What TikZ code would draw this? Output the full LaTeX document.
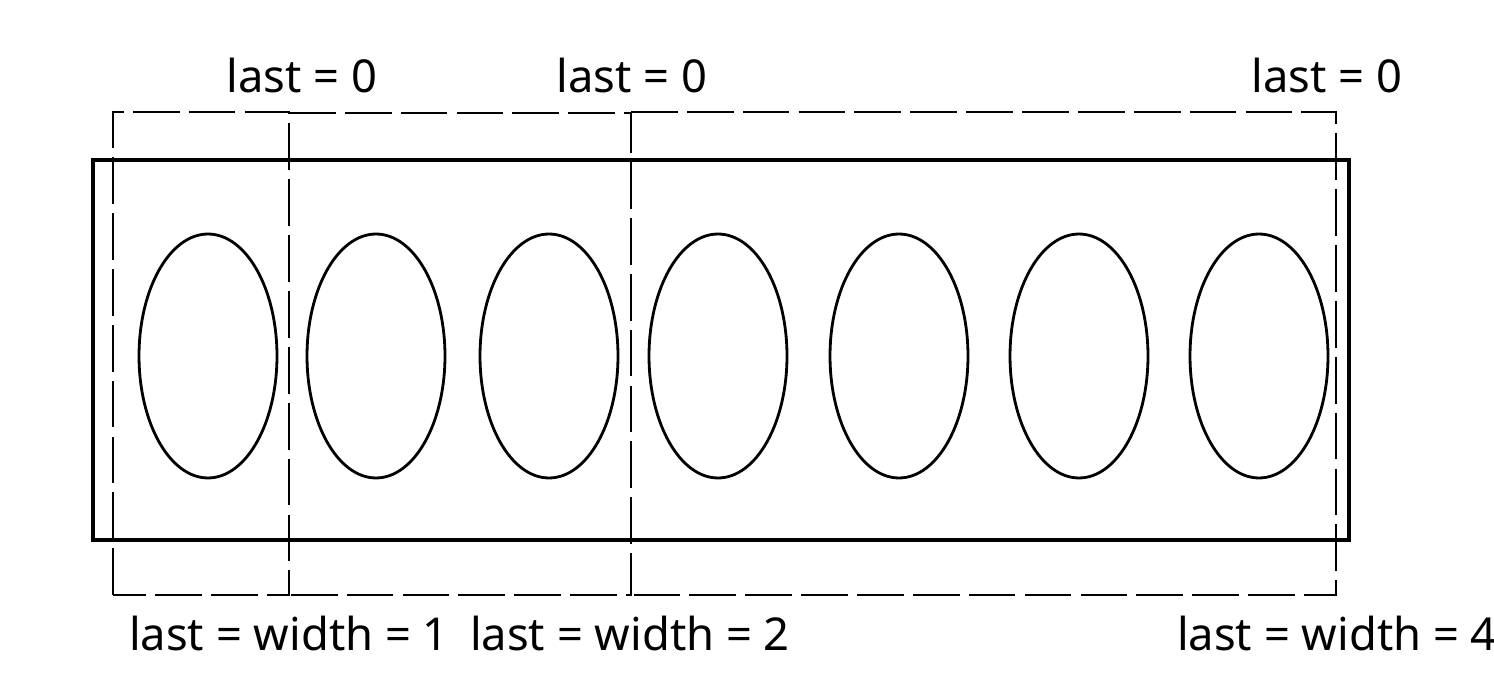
\documentclass[tikz,border=0pt]{standalone}
\usepackage{fontspec}
\setmainfont{Noto Sans}
\usetikzlibrary{shapes.geometric}

\tikzset{
  cell/.style={ellipse, draw, line width=1.6pt, minimum width=2.76cm,
    minimum height=4.88cm, inner sep=0pt},
  window/.style={line width=1.1pt, dash pattern=on 26.6pt off 5.2pt},
  lbl/.style={font=\fontsize{25.8}{30}\selectfont, inner sep=0pt}
}

\begin{document}
\begin{tikzpicture}[x=0.02cm, y=-0.02cm]
\useasboundingbox (0, 0) rectangle (1494, 695);

\draw[line width=1.9pt] (93, 160) rectangle (1349, 540);

\foreach \x [count=\i] in {208, 376, 549, 718, 899, 1079, 1259} {
    \node[cell] (cell\i) at (\x, 356) {};
}

% windows share their left edge with the one before
\draw[window] (113, 595) -- (113, 112) -- (289, 112) -- (289, 595) -- cycle;
\draw[window] (289, 113) -- (631, 113) -- (631, 595) -- (289, 595);
\draw[window] (631, 112) -- (1336, 112) -- (1336, 595) -- (631, 595);

\node[lbl] (top1) at (302, 76) {last = 0};
\node[lbl] (top2) at (632, 76) {last = 0};
\node[lbl] (top3) at (1327, 76) {last = 0};
\node[lbl] (bot1) at (289, 633) {last = width = 1};
\node[lbl] (bot2) at (630, 633) {last = width = 2};
\node[lbl] (bot3) at (1337, 633) {last = width = 4};
\end{tikzpicture}
\end{document}
